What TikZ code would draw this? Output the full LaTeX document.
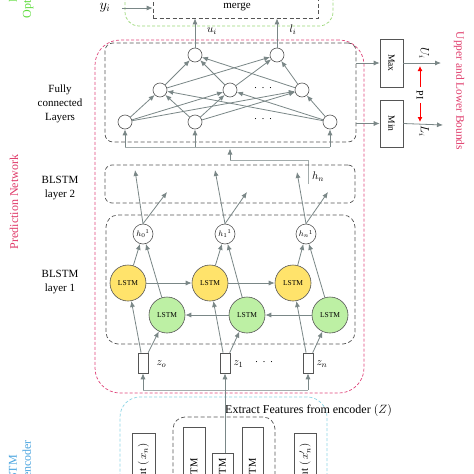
\documentclass[tikz,border=0pt]{standalone}
\usepackage{fontspec}
\setmainfont{Liberation Serif}
\usetikzlibrary{arrows.meta}
\definecolor{arrgray}{HTML}{7A8787}
\definecolor{busgray}{HTML}{A3ACAC}
\definecolor{boxgray}{HTML}{555555}
\definecolor{predred}{HTML}{E0457B}
\definecolor{encblue}{HTML}{8ED6E6}
\definecolor{optgreen}{HTML}{9BD878}
\definecolor{lstmyellow}{HTML}{FFE36B}
\definecolor{lstmgreen}{HTML}{BDF0A4}
\definecolor{txtblue}{HTML}{4DA6E0}
\definecolor{txtgreen}{HTML}{5EDC3C}
\definecolor{txtred}{HTML}{E03A6A}
\tikzset{
  arr/.style={draw=arrgray, line width=0.8pt, -{Latex[length=6pt,width=5pt]}},
  redarr/.style={draw=red, line width=0.9pt, -{Latex[length=5pt,width=5pt]}},
  ln/.style={draw=busgray, line width=0.8pt},
  dbox/.style={draw=boxgray, line width=0.7pt, dash pattern=on 4pt off 2.5pt, inner sep=0pt},
  neuron/.style={circle, draw=boxgray, line width=0.6pt, minimum size=14pt, inner sep=0pt, fill=white},
  hnode/.style={circle, draw=boxgray, line width=0.6pt, minimum size=20pt, inner sep=0pt, fill=white, font=\fontsize{8.5}{9}\selectfont},
  lstmY/.style={circle, draw=boxgray, line width=0.6pt, fill=lstmyellow, minimum size=36pt, inner sep=0pt, font=\fontsize{7.5}{9}\selectfont},
  lstmG/.style={circle, draw=boxgray, line width=0.6pt, fill=lstmgreen, minimum size=36pt, inner sep=0pt, font=\fontsize{7.5}{9}\selectfont},
  zbox/.style={rectangle, draw=boxgray, line width=0.6pt, minimum width=10pt, minimum height=20pt, inner sep=0pt, fill=white},
  rbox/.style={rectangle, draw=boxgray, line width=0.6pt, inner sep=0pt, fill=white},
  sidelbl/.style={font=\fontsize{11}{14}\selectfont, align=center},
  mlbl/.style={font=\fontsize{11}{13}\selectfont},
}
\begin{document}
\begin{tikzpicture}[x=1pt,y=-1pt]
\useasboundingbox (0,0) rectangle (474,474);
\fill[white] (0,0) rectangle (474,474);
\clip (0,0) rectangle (474,474);

% ---- big group boxes
\node[draw=optgreen, line width=0.7pt, dash pattern=on 3pt off 2pt, rounded corners=14pt, minimum width=208pt, minimum height=66pt] (optbox) at (229,-7) {};
\node[draw=predred, line width=0.7pt, dash pattern=on 3pt off 2pt, rounded corners=25pt, minimum width=269pt, minimum height=353pt] (pred) at (229.5,216.5) {};
\node[draw=encblue, line width=0.7pt, dash pattern=on 3pt off 2pt, rounded corners=20pt, minimum width=207pt, minimum height=143pt] (enc) at (223.5,468.5) {};

% ---- side texts
\node[rotate=90, font=\fontsize{12}{14}\selectfont, text=txtgreen, align=center] (opttxt) at (21,-13) {Model\\Optimization};
\node[rotate=90, font=\fontsize{12}{13}\selectfont, text=txtred] (predtxt) at (14,202) {Prediction Network};
\node[rotate=-90, font=\fontsize{11.4}{13}\selectfont, text=txtred] (uptxt) at (459,91) {Upper and Lower Bounds};
\node[rotate=90, font=\fontsize{12}{14}\selectfont, text=txtblue, align=center] (enctxt) at (20,471) {LSTM\\Autoencoder};

\node[sidelbl] (fclbl) at (60,104) {Fully\\connected\\Layers};
\node[sidelbl] (l2lbl) at (60,188) {BLSTM\\layer 2};
\node[sidelbl] (l1lbl) at (60,282) {BLSTM\\layer 1};

% ---- merge
\node[dbox, minimum width=165pt, minimum height=38pt] (merge) at (235.5,-1) {};
\node[font=\fontsize{11}{12}\selectfont] (mergetxt) at (237,7) {merge};
\node[font=\fontsize{14}{14}\selectfont] (yi) at (105,8) {$y_i$};
\draw[arr] (yi.east) ++(8,0) coordinate (yis) -- (yis -| merge.west);

% ---- fully connected layers
\node[dbox, rounded corners=8pt, minimum width=251pt, minimum height=99pt] (fc) at (230.5,92.5) {};
\node[neuron] (t1) at (195,55) {};
\node[neuron] (t2) at (277,55) {};
\node[neuron] (m1) at (160,90) {};
\node[neuron] (m2) at (230,90) {};
\node[neuron] (m3) at (302,90) {};
\node[neuron] (b1) at (125,122) {};
\node[neuron] (b2) at (195,122) {};
\node[neuron] (b3) at (330,122) {};
\node[font=\fontsize{10}{10}\selectfont] (dots1) at (263,88) {.\ \ .\ \ .};
\node[font=\fontsize{10}{10}\selectfont] (dots2) at (263,119) {.\ \ .\ \ .};
\foreach \b in {b1,b2,b3}{\foreach \m in {m1,m2,m3}{\draw[arr] (\b) -- (\m);}}
\foreach \m in {m1,m2,m3}{\foreach \t in {t1,t2}{\draw[arr] (\m) -- (\t);}}
\draw[arr] (t1) -- (t1 |- merge.south);
\draw[arr] (t2) -- (t2 |- merge.south);
\node[mlbl] (ui) at (212,31) {$u_i$};
\node[mlbl] (li) at (293,30) {$l_i$};

% ---- bus into fc
\coordinate (busL) at (125,147);
\coordinate (busR) at (330,147);
\draw[ln] (busL) -- (busR);
\draw[arr] (busL) -- (b1);
\draw[arr] (b2 |- busL) -- (b2);
\draw[arr] (busR) -- (b3);
\coordinate (hnbus) at (308,184);
\coordinate (hncorner) at (308,160);
\coordinate (midbus) at (230,160);
\draw[ln] (hnbus) -- (hncorner) -- (midbus);
\draw[arr] (midbus) -- (230,148.5);
\node[mlbl] (hnl) at (318,177) {$h_n$};

% ---- Max / Min
\node[rbox, minimum width=23pt, minimum height=48pt] (max) at (391.5,63) {};
\node[rotate=-90, font=\fontsize{9.5}{10}\selectfont] (maxt) at (max) {Max};
\node[rbox, minimum width=23pt, minimum height=47pt] (min) at (391.5,123.5) {};
\node[rotate=-90, font=\fontsize{9.5}{10}\selectfont] (mint) at (min) {Min};
\draw[arr] (fc.east |- max) -- (max.west);
\draw[arr] (fc.east |- min) -- (min.west);
\coordinate (Uend) at (441,63);
\coordinate (Lend) at (443,125);
\draw[arr] (max.east) -- (Uend);
\draw[arr] (min.east) -- (Lend);
\node[rotate=-90, font=\fontsize{12}{12}\selectfont] (Ui) at (424,53) {$U_i$};
\node[rotate=-90, font=\fontsize{12}{12}\selectfont] (Li) at (424,131) {$L_i$};
\node[rotate=-90, font=\fontsize{10}{10}\selectfont, text=black] (PI) at (420,95) {PI};
\draw[redarr] (PI.west) -- (420,66);
\draw[redarr] (PI.east) -- (420,122);

% ---- BLSTM layers
\node[dbox, rounded corners=7pt, minimum width=250pt, minimum height=38pt] (L2) at (230,184) {};
\node[dbox, rounded corners=12pt, minimum width=249pt, minimum height=129pt] (L1) at (230.5,279.5) {};

\node[hnode] (h0) at (143,234) {$h_0{}^{1}$};
\node[hnode] (h1) at (225,234) {$h_1{}^{1}$};
\node[hnode] (hn) at (306,234) {$h_n{}^{1}$};
\coordinate (h0a) at (135,170);
\coordinate (h0b) at (167,192);
\coordinate (h1a) at (215,170);
\coordinate (h1b) at (247,192);
\coordinate (hna) at (297,172);
\coordinate (hnb) at (328,192);
\draw[arr] (h0.north) -- (h0a);
\draw[arr] (h0.north) -- (h0b);
\draw[arr] (h1.north) -- (h1a);
\draw[arr] (h1.north) -- (h1b);
\draw[arr] (hn.north) -- (hna);
\draw[arr] (hn.north) -- (hnb);

\node[lstmY] (y1) at (128,283) {LSTM};
\node[lstmY] (y2) at (210,283) {LSTM};
\node[lstmY] (y3) at (293,283) {LSTM};
\node[lstmG] (g1) at (167,315) {LSTM};
\node[lstmG] (g2) at (247,315) {LSTM};
\node[lstmG] (g3) at (330,315) {LSTM};
\draw[arr] (y1) -- (y2);
\draw[arr] (y2) -- (y3);
\draw[arr] (g3) -- (g2);
\draw[arr] (g2) -- (g1);
\draw[arr] (y1) -- (h0);
\draw[arr] (y2) -- (h1);
\draw[arr] (y3) -- (hn);
\draw[arr] (g1) -- (h0);
\draw[arr] (g2) -- (h1);
\draw[arr] (g3) -- (hn);

% ---- z inputs
\node[zbox] (z0) at (143,363) {};
\node[zbox] (z1) at (225,363) {};
\node[zbox] (zn) at (308,363) {};
\node[mlbl, anchor=west] (z0l) at (153,364) {$z_o$};
\node[mlbl, anchor=west] (z1l) at (230,364) {$z_1$};
\node[font=\fontsize{10}{10}\selectfont] (zdots) at (264,362) {.\ \ .\ \ .};
\node[mlbl, anchor=west] (znl) at (313,364) {$z_n$};
\draw[arr] (z0) -- (y1);
\draw[arr] (z0) -- (g1);
\draw[arr] (z1) -- (y2);
\draw[arr] (z1) -- (g2);
\draw[arr] (zn) -- (y3);
\draw[arr] (zn) -- (g3);

% ---- encoder
\node[dbox, rounded corners=12pt, minimum width=102pt, minimum height=123pt] (encd) at (224,478.5) {};
\node[rbox, minimum width=23pt, minimum height=107pt] (r0) at (143.5,486.5) {};
\node[rbox, minimum width=22pt, minimum height=113pt] (r1) at (194,483.5) {};
\node[rbox, minimum width=21pt, minimum height=87pt] (r2) at (222.5,496.5) {};
\node[rbox, minimum width=21pt, minimum height=113pt] (r3) at (252.5,483.5) {};
\node[rbox, minimum width=22pt, minimum height=107pt] (r4) at (305,486.5) {};
\node[rotate=90, anchor=east, font=\fontsize{11}{12}\selectfont] (r0t) at (143.5,440) {Input $\left(\,x_n\right)$};
\node[rotate=90, anchor=east, font=\fontsize{10.5}{12}\selectfont] (r1t) at (194,455) {LSTM};
\node[rotate=90, anchor=east, font=\fontsize{10.5}{12}\selectfont] (r2t) at (222.5,455) {LSTM};
\node[rotate=90, anchor=east, font=\fontsize{10.5}{12}\selectfont] (r3t) at (252.5,455) {LSTM};
\node[rotate=90, anchor=east, font=\fontsize{11}{12}\selectfont] (r4t) at (305,440) {Output $\left(\,x'_n\right)$};
\node[anchor=west, font=\fontsize{12}{13}\selectfont, inner sep=1pt] (extract) at (224,410) {Extract Features from encoder \large$(Z)$};

\coordinate (inL) at (143,390);
\coordinate (inR) at (308,390);
\draw[ln] (inL) -- (inR);
\draw[arr] (inL) -- (z0);
\draw[arr] (inR) -- (zn);
\draw[arr] (r2.north -| z1) -- (z1);
\end{tikzpicture}
\end{document}
